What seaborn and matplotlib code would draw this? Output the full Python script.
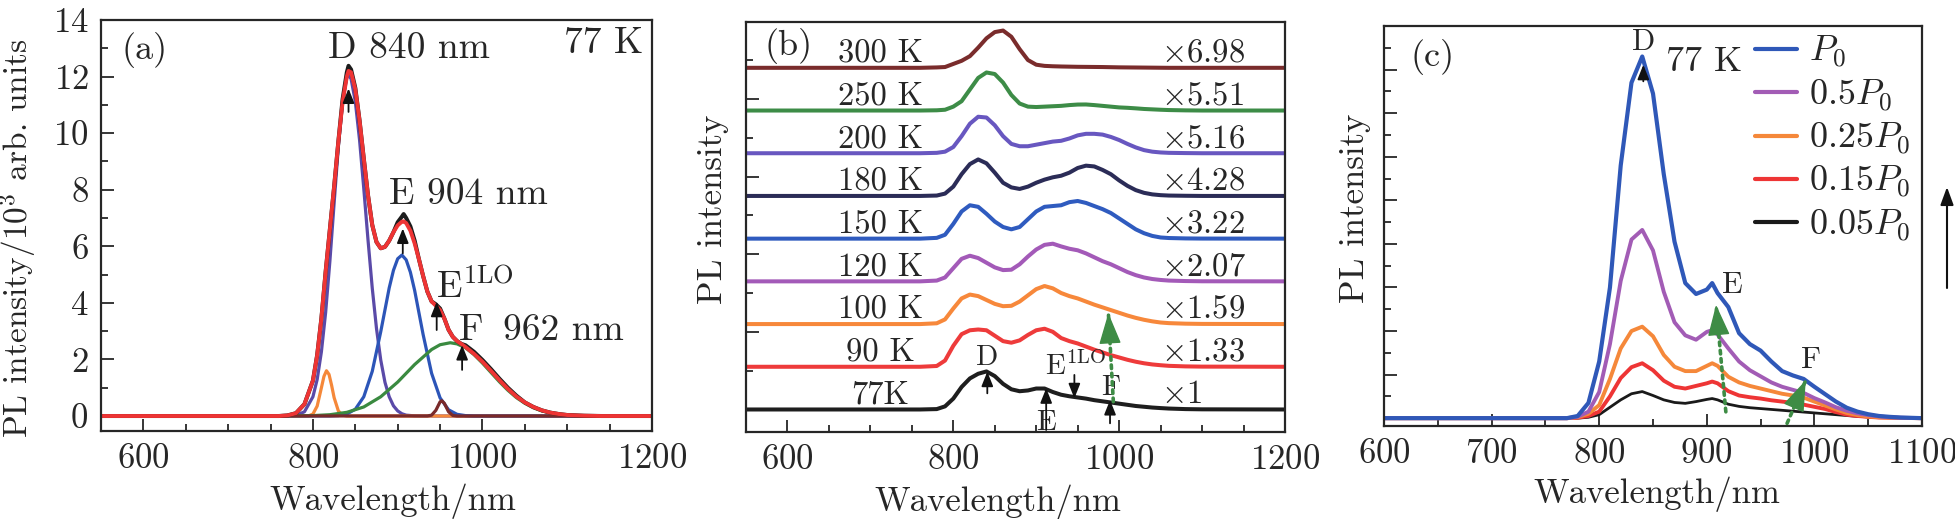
import matplotlib
matplotlib.use("Agg")
import matplotlib.pyplot as plt
from matplotlib.ticker import MultipleLocator, NullFormatter
import seaborn as sns

# ---------------- panel (a): 77 K spectrum with Gaussian fit (10^3 arb. units)
wl_a = [550, 760, 770, 780, 790, 800, 805, 810, 815, 820, 825, 830, 835, 840, 842, 845, 850, 855,
        860, 865, 870, 875, 880, 885, 890, 895, 900, 905, 907, 910, 915, 920, 925, 930, 935, 940,
        945, 950, 955, 960, 965, 970, 975, 980, 990, 1000, 1010, 1020, 1030, 1040, 1050, 1060,
        1070, 1080, 1090, 1100, 1120, 1140, 1200]
fit_a = [0, 0, 0.02, 0.1, 0.42, 1.25, 2.15, 3.45, 5.1, 6.6, 8.1, 9.7, 11.1, 12.0, 12.2, 12.15, 11.55,
         10.45, 9.1, 7.8, 6.75, 6.15, 5.93, 5.98, 6.2, 6.5, 6.74, 6.87, 6.88, 6.82, 6.55, 6.1, 5.55,
         4.95, 4.4, 4.05, 3.9, 3.75, 3.45, 3.05, 2.8, 2.65, 2.55, 2.44, 2.2, 1.92, 1.6, 1.27, 0.96,
         0.69, 0.48, 0.32, 0.2, 0.12, 0.07, 0.035, 0.01, 0, 0]
meas_a = [0, 0, 0.02, 0.1, 0.42, 1.25, 2.15, 3.45, 5.1, 6.6, 8.1, 9.7, 11.2, 12.15, 12.38, 12.25, 11.6,
          10.45, 9.1, 7.8, 6.75, 6.15, 5.93, 5.98, 6.2, 6.5, 6.85, 7.05, 7.14, 7.0, 6.7, 6.2, 5.55,
          4.95, 4.4, 4.05, 3.95, 3.8, 3.45, 3.05, 2.8, 2.65, 2.55, 2.5, 2.27, 1.98, 1.66, 1.32, 1.0,
          0.72, 0.48, 0.32, 0.2, 0.12, 0.07, 0.035, 0.01, 0, 0]

wl_peakD = [550, 760, 780, 790, 800, 805, 810, 815, 820, 825, 830, 835, 840, 842, 845, 850, 855, 860,
            865, 870, 875, 880, 885, 890, 895, 900, 905, 910, 920, 930, 1200]
peakD = [0, 0, 0.02, 0.15, 0.68, 1.29, 2.27, 3.66, 5.47, 7.52, 9.52, 11.12, 11.97, 12.05, 11.92,
         11.12, 9.76, 8.04, 6.22, 4.52, 3.09, 1.98, 1.19, 0.68, 0.36, 0.18, 0.08, 0.03, 0.005, 0, 0]
wl_peakO = [550, 790, 795, 800, 805, 810, 813, 816, 819, 822, 825, 830, 835, 840, 1200]
peakO = [0, 0, 0.007, 0.07, 0.35, 1.0, 1.4, 1.6, 1.47, 1.09, 0.65, 0.18, 0.03, 0, 0]
wl_peakE = [550, 820, 830, 840, 850, 860, 870, 880, 890, 895, 900, 905, 910, 915, 920, 930, 940, 950,
            960, 970, 980, 990, 1200]
peakE = [0, 0.003, 0.015, 0.07, 0.24, 0.68, 1.58, 2.98, 4.53, 5.15, 5.56, 5.69, 5.52, 5.08, 4.44,
         2.88, 1.51, 0.64, 0.22, 0.06, 0.014, 0, 0]
wl_peakF = [550, 800, 820, 840, 860, 880, 900, 920, 940, 950, 962, 970, 980, 990, 1000, 1010, 1020,
            1030, 1040, 1050, 1060, 1070, 1080, 1090, 1100, 1120, 1140, 1200]
peakF = [0, 0.014, 0.046, 0.13, 0.32, 0.68, 1.2, 1.82, 2.35, 2.52, 2.59, 2.55, 2.41, 2.17, 1.87,
         1.54, 1.21, 0.91, 0.65, 0.45, 0.29, 0.18, 0.11, 0.06, 0.03, 0.007, 0, 0]
wl_peakLO = [550, 935, 940, 945, 950, 952, 955, 960, 965, 970, 1200]
peakLO = [0, 0.002, 0.03, 0.2, 0.5, 0.54, 0.45, 0.15, 0.02, 0, 0]

# ---------------- panel (b): normalised spectra vs temperature
wl_b = [550, 760, 780, 790, 800, 810, 820, 830, 840, 850, 860, 870, 880, 890, 900, 910, 920, 930,
        940, 950, 960, 970, 980, 990, 1000, 1010, 1020, 1030, 1040, 1050, 1060, 1080, 1100, 1200]
t77 = [0, 0, 0.005, 0.04, 0.14, 0.29, 0.40, 0.46, 0.49, 0.43, 0.33, 0.26, 0.235, 0.245, 0.27, 0.27,
       0.225, 0.19, 0.17, 0.155, 0.14, 0.12, 0.105, 0.09, 0.075, 0.06, 0.045, 0.035, 0.025, 0.018,
       0.012, 0.005, 0.002, 0]
t90 = [0, 0, 0.01, 0.08, 0.27, 0.42, 0.47, 0.48, 0.47, 0.40, 0.33, 0.31, 0.34, 0.41, 0.47, 0.49,
       0.45, 0.37, 0.33, 0.30, 0.26, 0.22, 0.185, 0.15, 0.12, 0.09, 0.065, 0.045, 0.03, 0.02, 0.012,
       0.005, 0.002, 0]
t100 = [0, 0, 0.01, 0.06, 0.2, 0.33, 0.38, 0.36, 0.31, 0.26, 0.23, 0.235, 0.29, 0.37, 0.45, 0.49,
        0.46, 0.40, 0.36, 0.33, 0.29, 0.25, 0.215, 0.18, 0.145, 0.11, 0.08, 0.055, 0.035, 0.02,
        0.012, 0.005, 0.002, 0]
t120 = [0, 0, 0.01, 0.05, 0.17, 0.29, 0.33, 0.30, 0.24, 0.18, 0.145, 0.15, 0.22, 0.32, 0.41, 0.47,
        0.485, 0.45, 0.42, 0.40, 0.36, 0.31, 0.26, 0.22, 0.17, 0.12, 0.08, 0.05, 0.03, 0.018, 0.01,
        0.004, 0.001, 0]
t150 = [0, 0, 0.01, 0.05, 0.19, 0.35, 0.43, 0.41, 0.32, 0.22, 0.15, 0.12, 0.15, 0.25, 0.35, 0.41,
        0.42, 0.43, 0.47, 0.485, 0.46, 0.42, 0.38, 0.33, 0.26, 0.19, 0.12, 0.07, 0.035, 0.015, 0.008,
        0.003, 0.001, 0]
t180 = [0, 0, 0.005, 0.03, 0.12, 0.28, 0.41, 0.47, 0.42, 0.30, 0.17, 0.11, 0.09, 0.12, 0.17, 0.21,
        0.24, 0.26, 0.30, 0.36, 0.39, 0.38, 0.335, 0.28, 0.20, 0.13, 0.075, 0.04, 0.02, 0.01, 0.005,
        0.002, 0, 0]
t200 = [0, 0, 0.005, 0.02, 0.08, 0.22, 0.38, 0.47, 0.46, 0.36, 0.22, 0.12, 0.09, 0.09, 0.11, 0.13,
        0.15, 0.16, 0.19, 0.23, 0.25, 0.25, 0.24, 0.21, 0.17, 0.12, 0.075, 0.04, 0.02, 0.01, 0.005,
        0.002, 0, 0]
t250 = [0, 0, 0.003, 0.01, 0.05, 0.12, 0.27, 0.42, 0.49, 0.47, 0.36, 0.20, 0.09, 0.05, 0.045, 0.05,
        0.055, 0.06, 0.07, 0.077, 0.078, 0.07, 0.06, 0.05, 0.04, 0.035, 0.028, 0.02, 0.015, 0.01,
        0.006, 0.002, 0, 0]
t300 = [0, 0, 0.005, 0.01, 0.05, 0.09, 0.15, 0.26, 0.38, 0.46, 0.48, 0.40, 0.24, 0.10, 0.04, 0.025,
        0.02, 0.017, 0.015, 0.013, 0.012, 0.011, 0.01, 0.008, 0.006, 0.005, 0.004, 0.003, 0.002,
        0.001, 0, 0, 0, 0]
temp_labels = ["77K", "90 K", "100 K", "120 K", "150 K", "180 K", "200 K", "250 K", "300 K"]
scale_labels = ["1", "1.33", "1.59", "2.07", "3.22", "4.28", "5.16", "5.51", "6.98"]
offsets_b = [0, 0.55, 1.10, 1.65, 2.20, 2.75, 3.30, 3.85, 4.40]

# ---------------- panel (c): power dependence at 77 K
wl_c = [600, 770, 780, 790, 800, 810, 820, 830, 840, 850, 860, 870, 880, 890, 900, 905, 910, 920,
        930, 940, 950, 960, 970, 980, 990, 1000, 1010, 1020, 1030, 1040, 1050, 1060, 1070, 1080, 1100]
p100 = [0, 0, 0.05, 0.35, 1.3, 3.0, 5.8, 7.7, 8.3, 7.45, 5.6, 4.05, 3.1, 2.85, 2.95, 3.1, 2.87, 2.55,
        1.95, 1.7, 1.55, 1.3, 1.08, 0.98, 0.9, 0.72, 0.55, 0.38, 0.24, 0.15, 0.09, 0.05, 0.03, 0.015, 0]
p050 = [0, 0, 0.03, 0.15, 0.6, 1.7, 3.15, 4.1, 4.32, 3.85, 2.9, 2.2, 1.9, 1.8, 1.98, 2.02, 1.92, 1.6,
        1.3, 1.1, 0.96, 0.82, 0.72, 0.65, 0.58, 0.46, 0.36, 0.25, 0.17, 0.11, 0.07, 0.04, 0.02, 0.01, 0]
p025 = [0, 0, 0.02, 0.1, 0.3, 0.9, 1.6, 2.0, 2.1, 1.88, 1.45, 1.18, 1.08, 1.08, 1.2, 1.26, 1.2, 0.95,
        0.82, 0.74, 0.68, 0.62, 0.56, 0.52, 0.47, 0.38, 0.29, 0.2, 0.12, 0.07, 0.04, 0.02, 0.01, 0.005, 0]
p015 = [0, 0, 0.01, 0.05, 0.15, 0.5, 0.92, 1.17, 1.26, 1.1, 0.86, 0.72, 0.68, 0.74, 0.8, 0.84, 0.8,
        0.62, 0.52, 0.48, 0.45, 0.41, 0.38, 0.35, 0.31, 0.26, 0.21, 0.14, 0.08, 0.05, 0.03, 0.015,
        0.01, 0.005, 0]
p005 = [0, 0, 0, 0.02, 0.08, 0.25, 0.42, 0.56, 0.61, 0.52, 0.42, 0.36, 0.34, 0.38, 0.43, 0.45, 0.42,
        0.32, 0.27, 0.24, 0.22, 0.2, 0.18, 0.16, 0.14, 0.12, 0.1, 0.08, 0.06, 0.04, 0.03, 0.02, 0.01,
        0.005, 0]
power_labels = ["$P_0$", "$0.5P_0$", "$0.25P_0$", "$0.15P_0$", "$0.05P_0$"]

# ---------------- style
sns.set_theme(style="ticks")
TXT = "#262626"
plt.rcParams.update({
    "font.family": ["cmr10", "DejaVu Serif"],
    "mathtext.fontset": "cm",
    "axes.formatter.use_mathtext": True,
    "axes.unicode_minus": False,
    "font.size": 25,
    "axes.linewidth": 1.6,
    "axes.edgecolor": TXT,
    "text.color": TXT,
    "axes.labelcolor": TXT,
    "xtick.color": TXT,
    "ytick.color": TXT,
})

W, H = 1955, 519
fig = plt.figure(figsize=(W / 100, H / 100), dpi=100)
fig.patch.set_facecolor("white")


def frame(l, t, r, b):
    return fig.add_axes([l / W, 1 - b / H, (r - l) / W, (b - t) / H])


ax_a = frame(101, 20, 652, 431)
ax_b = frame(746, 22, 1285, 432)
ax_c = frame(1384, 26, 1922, 426)


def style(ax, xmaj, xmin, ymaj, ymin, ylabels=True):
    ax.xaxis.set_major_locator(MultipleLocator(xmaj))
    ax.xaxis.set_minor_locator(MultipleLocator(xmin))
    ax.yaxis.set_major_locator(MultipleLocator(ymaj))
    ax.yaxis.set_minor_locator(MultipleLocator(ymin))
    ax.tick_params(which="both", direction="in", top=False, right=False, width=1.3,
                   labelsize=25, pad=9)
    ax.tick_params(which="major", length=9)
    ax.tick_params(which="minor", length=5)
    if not ylabels:
        ax.yaxis.set_major_formatter(NullFormatter())
    for s in ax.spines.values():
        s.set_visible(True)
        s.set_linewidth(1.6)
    ax.set_facecolor("white")


def up_arrow(ax, x, y0, y1, color="#111111", ms=16, lw=1.3):
    ax.annotate("", xy=(x, y1), xytext=(x, y0),
                arrowprops=dict(arrowstyle="-|>,head_length=0.55,head_width=0.22", color=color,
                                lw=lw, mutation_scale=ms, shrinkA=0, shrinkB=0))


GREEN_ARROW = "#3e8c45"


def dotted_arrow(ax, tail, tip):
    ax.annotate("", xy=tip, xytext=tail,
                arrowprops=dict(arrowstyle="-", ls=(0, (1, 1.3)), lw=2.6, color=GREEN_ARROW,
                                shrinkA=0, shrinkB=0))
    base = (tip[0] + 0.2 * (tail[0] - tip[0]), tip[1] + 0.2 * (tail[1] - tip[1]))
    ax.annotate("", xy=tip, xytext=base,
                arrowprops=dict(arrowstyle="-|>,head_length=0.9,head_width=0.32", lw=1,
                                color=GREEN_ARROW, mutation_scale=22, shrinkA=0, shrinkB=0))


# ---------------- (a)
comps = [(wl_peakD, peakD, "#5a4aa8"), (wl_peakO, peakO, "#f5883a"),
         (wl_peakE, peakE, "#2c55b8"), (wl_peakF, peakF, "#3a8a40"),
         (wl_peakLO, peakLO, "#7a2a2a")]
for wl, ys, col in comps:
    sns.lineplot(x=wl, y=ys, ax=ax_a, color=col, lw=2.3, estimator=None, legend=False)
sns.lineplot(x=wl_a, y=meas_a, ax=ax_a, color="#1c1c1c", lw=2.9, estimator=None, legend=False)
sns.lineplot(x=wl_a, y=fit_a, ax=ax_a, color="#ee3434", lw=2.8, estimator=None, legend=False)
ax_a.set_xlim(550, 1200)
ax_a.set_ylim(-0.53, 14)
style(ax_a, 200, 50, 2, 1)
ax_a.set_xlabel("Wavelength/nm", fontsize=25)
ax_a.set_ylabel("PL intensity/$10^3$ arb. units", fontsize=24)
ax_a.xaxis.set_label_coords(0.53, -0.127)
ax_a.yaxis.set_label_coords(-0.113, 0.47)
ax_a.text(601, 12.93, "(a)", ha="center", va="center", fontsize=26)
ax_a.text(818, 12.64, "D 840 nm", ha="left", va="baseline", fontsize=27)
ax_a.text(1096, 12.82, "77 K", ha="left", va="baseline", fontsize=27)
ax_a.text(890, 7.49, "E 904 nm", ha="left", va="baseline", fontsize=27)
ax_a.text(945, 4.17, r"E$^{\rm 1LO}$", ha="left", va="baseline", fontsize=27)
ax_a.text(972, 2.69, "F", ha="left", va="baseline", fontsize=27)
ax_a.text(1024, 2.69, "962 nm", ha="left", va="baseline", fontsize=27)
for x, y0, y1 in [(842, 10.75, 11.58), (906, 5.75, 6.63), (946, 3.04, 4.04), (976, 1.63, 2.51)]:
    up_arrow(ax_a, x, y0, y1)

# ---------------- (b)
series_b = [t77, t90, t100, t120, t150, t180, t200, t250, t300]
colors_b = ["#1e1e1e", "#ee3b3b", "#f7883b", "#a35ab8", "#2f5bbf", "#2b2c57", "#6857c0",
            "#3d8c47", "#7a2c2c"]
for ys, off, col, tl, sl in zip(series_b, offsets_b, colors_b, temp_labels, scale_labels):
    sns.lineplot(x=wl_b, y=[v + off for v in ys], ax=ax_b, color=col, lw=2.9,
                 estimator=None, legend=False)
    ax_b.text(712, off + 0.08, tl, ha="center", va="baseline", fontsize=23.5)
    ax_b.text(1051, off + 0.08, r"$\times$" + sl, ha="left", va="baseline", fontsize=23.5)
ax_b.set_xlim(550, 1200)
ax_b.set_ylim(-0.29, 4.99)
style(ax_b, 200, 50, 1, 0.5, ylabels=False)
ax_b.set_xlabel("Wavelength/nm", fontsize=25)
ax_b.set_ylabel("PL intensity", fontsize=25)
ax_b.xaxis.set_label_coords(0.467, -0.128)
ax_b.yaxis.set_label_coords(-0.032, 0.543)
ax_b.text(601, 4.68, "(b)", ha="center", va="center", fontsize=26)
ax_b.text(841, 0.573, "D", ha="center", va="baseline", fontsize=21)
ax_b.text(912, -0.264, "E", ha="center", va="baseline", fontsize=21)
ax_b.text(911, 0.445, r"E$^{\rm 1LO}$", ha="left", va="baseline", fontsize=21)
ax_b.text(990, 0.187, "F", ha="center", va="baseline", fontsize=21)
up_arrow(ax_b, 841, 0.208, 0.487)
up_arrow(ax_b, 912, -0.264, 0.273)
up_arrow(ax_b, 946, 0.445, 0.144)
up_arrow(ax_b, 989, -0.178, 0.122)
dotted_arrow(ax_b, (993, 0.10), (987, 1.24))

# ---------------- (c)
series_c = [p100, p050, p025, p015, p005]
colors_c = ["#2f58b8", "#a25cb5", "#f5883a", "#ee3535", "#1a1a1a"]
widths_c = [3.0, 2.8, 2.8, 2.8, 2.0]
for ys, col, lw_, lab in reversed(list(zip(series_c, colors_c, widths_c, power_labels))):
    sns.lineplot(x=wl_c, y=ys, ax=ax_c, color=col, lw=lw_, estimator=None, label=lab)
ax_c.set_xlim(600, 1100)
ax_c.set_ylim(-0.18, 9.0)
style(ax_c, 100, 50, 1, 0.5, ylabels=False)
ax_c.set_xlabel("Wavelength/nm", fontsize=25)
ax_c.set_ylabel("PL intensity", fontsize=25)
ax_c.xaxis.set_label_coords(0.507, -0.126)
ax_c.yaxis.set_label_coords(-0.024, 0.544)
h, l = ax_c.get_legend_handles_labels()
order = [l.index(s) for s in power_labels]
leg = ax_c.legend([h[i] for i in order], [l[i] for i in order], loc="upper left",
                  bbox_to_anchor=(0.69, 0.98), frameon=False, fontsize=26,
                  handlelength=1.15, handletextpad=0.35, labelspacing=0.2, borderpad=0,
                  borderaxespad=0)
for line in leg.get_lines():
    line.set_linewidth(3.0)
ax_c.text(645, 8.28, "(c)", ha="center", va="center", fontsize=26)
ax_c.text(841, 8.46, "D", ha="center", va="baseline", fontsize=22)
ax_c.text(862, 7.96, "77 K", ha="left", va="baseline", fontsize=26)
ax_c.text(914, 2.87, "E", ha="left", va="baseline", fontsize=22)
ax_c.text(988, 1.14, "F", ha="left", va="baseline", fontsize=22)
up_arrow(ax_c, 841, 7.73, 8.11)
dotted_arrow(ax_c, (917.7, 0.145), (908.6, 2.6))
dotted_arrow(ax_c, (974.6, -0.12), (992, 0.87))

# arrow outside panel (c)
fig.add_artist(matplotlib.patches.FancyArrowPatch(
    (1947 / W, 1 - 288 / H), (1947 / W, 1 - 187 / H), transform=fig.transFigure,
    arrowstyle="-|>,head_length=0.6,head_width=0.22", mutation_scale=18, color="#111111",
    lw=1.5, shrinkA=0, shrinkB=0))

fig.savefig("out.png", dpi=100, facecolor="white")
